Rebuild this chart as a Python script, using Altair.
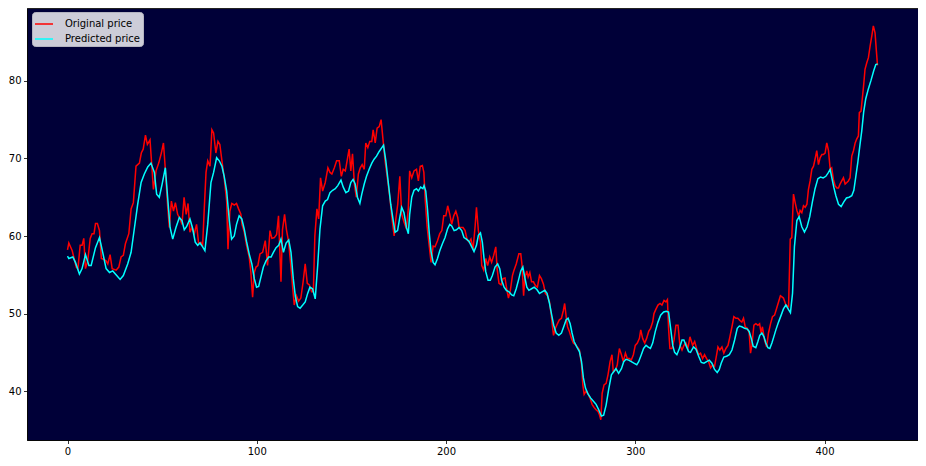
import altair as alt
import pandas as pd

# ---- Original price (red) ----
orig_x = [0, 0.7, 2.5, 4.6, 5.5, 6.7, 7.7, 8.6, 9.5, 10.7, 12, 13, 14, 14.8, 15.8, 16.9, 17.9, 19, 20.4, 21.3,
          22.5, 23.6, 25.7, 27.1, 28.3, 29.5, 30.6, 32.4, 33.6, 34.8, 36.2, 38, 39, 40, 41.2, 42.2, 43.6,
          45.4, 46.8, 48.2, 49.6, 50.7, 51.7, 52.9, 53.8, 54.9, 56, 57, 58.2, 59.5, 60.5, 61.6, 62.7, 63.7,
          64.7, 65.8, 67, 68.2, 69.3, 70.5, 71.4, 72.3, 73.2, 74.1, 75.3, 76.3, 77.2, 78.4, 79.5, 80.5, 81.6,
          82.8, 84.1, 84.8, 85.8, 86.8, 88.1, 89.3, 90.4, 91.6, 92.2, 93.4, 94.6, 96, 96.9, 97.8, 98.7, 99.6,
          100.6, 101.7, 103.1, 104.5, 105.7, 107, 108, 109.3, 110.5, 111.5, 112.8, 113.6, 114.7, 115.7, 116.8,
          118, 118.9, 119.8, 121, 122.1, 123.3, 124.5, 125.6, 126.7, 127.8, 129, 129.9, 130.7, 131.8, 132.7,
          133.7, 134.8, 136.2, 137.6, 138.7, 139.7, 141, 142.2, 143.6, 144.7, 145.7, 146.8, 147.8, 148.8,
          149.7, 150.6, 151.6, 152.6, 153.7, 154.7, 155.7, 156.8, 157.6, 158.7, 159.7, 160.8, 161.5, 162.6,
          163.6, 164.7, 165.7, 166.8, 167.8, 169.1, 170.3, 171.4, 172.6, 173.4, 174.5, 175.6, 176.6, 177.8,
          179.1, 180.1, 180.8, 181.9, 183.1, 184.4, 185.4, 186.4, 187.5, 188.3, 189, 190, 191.1, 192.1, 193.2,
          194.2, 195.5, 196.7, 197.8, 198.8, 199.9, 200.9, 202, 203, 204.1, 205.2, 206.2, 206.9, 208, 209,
          210.1, 211.1, 212.2, 213.2, 214.3, 215.4, 216.1, 217.1, 218.2, 218.9, 219.9, 221, 222, 223.1, 224.1,
          225.2, 226.3, 227, 228, 229.1, 230.1, 231.2, 232.2, 233, 234, 235.1, 235.8, 237.1, 238.5, 239.5,
          240.2, 241, 241.6, 242.7, 243.4, 244.3, 245.2, 246.2, 247.3, 248.3, 249.4, 250.4, 251.5, 252.5,
          253.6, 254.7, 255.7, 256.8, 257.8, 258.9, 259.9, 261, 262, 262.7, 263.5, 264.2, 265.2, 266.3, 267.3,
          268.4, 269.4, 270.5, 271.6, 272.3, 273, 274, 275.1, 276.1, 277.2, 278.2, 279.3, 280.3, 281, 281.8,
          282.5, 283.5, 284.6, 285.6, 286.7, 287.7, 288.4, 289.5, 290.5, 291.6, 292.7, 293.7, 294.8, 295.8,
          296.9, 297.9, 299, 300, 301.1, 302.2, 302.9, 303.9, 305, 306, 307.1, 308.1, 309.2, 309.9, 311, 312,
          313.1, 314.1, 315.2, 316.2, 317, 317.6, 318.3, 319.4, 320.5, 321.5, 322.6, 323.6, 324.7, 325.7,
          326.8, 327.8, 328.9, 330.3, 331.4, 332.4, 333.5, 334.5, 335.6, 336.6, 337.7, 338.8, 339.8, 340.9,
          341.9, 343, 343.7, 344.7, 345.8, 346.8, 347.9, 349, 350, 351.1, 352.1, 353.2, 354.2, 355.3, 356.3,
          357.2, 358.1, 359.2, 360.2, 360.9, 361.6, 362.7, 363.7, 364.8, 365.7, 366.5, 367.2, 368.3, 369.4,
          370.4, 371.5, 372.5, 373.6, 374.6, 375.7, 376.7, 378.3, 379.6, 381, 381.9, 382.7, 383.6, 384.5,
          385.4, 386.3, 387.1, 388, 388.9, 389.8, 390.7, 391.5, 392.4, 393.3, 394.2, 395, 395.9, 396.8, 397.7,
          398.6, 399.4, 400.3, 401.2, 402.1, 403, 403.8, 404.7, 405.6, 406.5, 407.4, 408.2, 409.1, 410, 410.9,
          411.8, 412.6, 413.5, 414.4, 415.3, 416.2, 417, 417.9, 418.4, 419.3, 420, 420.7, 421.4, 422.3, 423.2,
          424.1, 425, 425.8, 426.7, 427.4, 428]
orig_y = [58.2, 59.1, 58.1, 56.0, 55.8, 58.8, 58.8, 59.7, 55.8, 56.8, 59.7, 60.3, 60.3, 61.6, 61.6, 60.7, 57.1, 57.0, 56.8, 56.4,
          57.6, 55.8, 55.6, 56.0, 57.3, 57.5, 59.0, 60.3, 63.5, 64.3, 69.0, 69.4, 70.7, 71.2, 73.0, 71.8, 72.4,
          66.0, 68.4, 69.4, 70.7, 72.0, 68.6, 63.9, 61.1, 64.5, 63.2, 64.3, 62.8, 62.2, 61.5, 65.0, 62.8, 64.2,
          60.5, 61.1, 60.3, 61.5, 59.0, 59.2, 58.8, 63.7, 68.2, 69.7, 69.0, 73.7, 73.3, 70.7, 72.2, 71.8, 69.7,
          67.5, 64.5, 58.3, 63.2, 64.2, 64.0, 64.2, 63.5, 62.8, 61.5, 60.5, 58.8, 57.3, 55.3, 52.1, 55.3, 56.0,
          56.2, 57.7, 57.9, 59.4, 56.2, 60.7, 59.7, 59.8, 60.2, 62.6, 54.1, 60.8, 62.8, 60.8, 59.3,
          56.2, 53.6, 51.1, 52.3, 51.6, 52.0, 54.1, 56.4, 53.9, 53.7, 52.8, 52.8, 60.0, 63.5, 62.2,
          67.5, 65.8, 66.9, 68.8, 68.2, 68.0, 68.8, 69.7, 69.7, 67.7, 68.6, 68.4, 69.8, 71.2,
          68.4, 70.6, 66.7, 65.0, 68.0, 68.8, 69.2, 68.6, 72.0, 71.4, 72.2, 72.2, 73.7, 72.0,
          73.9, 74.1, 75.0, 72.2, 69.7, 67.3, 65.0, 62.4, 60.0, 62.0, 64.1, 67.7, 62.8, 61.8,
          60.9, 63.6, 68.4, 67.5, 68.4, 68.6, 67.1, 69.0, 69.1, 68.2, 64.7, 61.3, 58.8, 56.6, 58.7,
          58.6, 59.4, 60.3, 60.7, 62.6, 62.6, 63.9, 62.8, 61.5, 62.6, 63.2, 62.4, 61.1, 61.1, 61.1,
          60.7, 59.6, 59.2, 59.6, 58.3, 61.3, 63.7, 60.7, 59.2, 56.2, 55.6, 57.1, 56.2, 57.3, 56.6,
          57.5, 58.6, 55.8, 53.9, 53.7, 54.5, 54.6, 53.0, 52.0, 53.0, 54.9, 55.5, 56.4, 57.7, 57.7,
          56.2, 52.3, 54.5, 55.5, 54.7, 55.3, 54.1, 54.1, 53.6, 53.4, 54.9, 54.5, 53.8, 52.6,
          52.3, 51.5, 49.6, 47.2, 48.1, 48.7, 49.2, 49.4, 50.4, 51.3, 49.6, 48.3, 47.7, 46.8, 46.2,
          46.0, 45.7, 45.3, 43.4, 40.8, 39.6, 40.0, 39.6, 39.1, 38.3, 37.9, 37.6, 37.4, 37.0, 36.3,
          39.7, 40.8, 41.0, 42.1, 43.8, 44.7, 42.5, 42.7, 43.4, 45.5, 44.7, 43.8, 44.9, 44.2,
          44.2, 44.0, 44.7, 45.9, 46.2, 46.8, 47.9, 46.8, 46.2, 46.8, 47.7, 48.1, 48.9, 50.0, 50.6, 51.1,
          51.3, 51.1, 51.7, 51.5, 51.8, 48.1, 45.5, 45.5, 46.6, 48.5, 48.5, 45.9, 45.3, 45.9,
          46.2, 45.5, 47.0, 45.9, 46.4, 45.5, 44.7, 44.9, 44.2, 44.7, 44.2, 43.8, 43.0, 43.4,
          43.2, 44.7, 45.7, 45.3, 45.7, 44.9, 45.5, 45.9, 47.0, 48.3, 49.6, 49.4, 49.4, 49.1, 48.9,
          49.4, 48.3, 48.1, 47.5, 44.9, 45.9, 48.5, 48.7, 48.5, 48.7, 47.5, 48.3, 46.6, 45.7,
          47.5, 48.7, 49.6, 49.8, 50.6, 51.5, 52.3, 52.0, 51.1, 50.9, 59.6, 59.8, 65.4, 64.3,
          63.3, 62.6, 63.3, 63.0, 63.9, 63.7, 64.1, 66.0, 67.1, 68.6, 69.0, 69.9, 71.0, 69.2, 70.1,
          70.5, 70.5, 70.7, 72.0, 71.0, 68.6, 68.8, 67.3, 66.5, 66.2, 66.2, 66.7, 67.1, 67.5, 66.7,
          66.9, 67.1, 67.5, 70.3, 71.0, 72.0, 72.5, 72.9, 75.9, 76.1, 77.8, 79.5, 81.5, 82.3, 83.0,
          84.5, 85.8, 87.1, 86.2, 83.9, 82.0]

# ---- Predicted price (cyan) ----
pred_x = [0, 0.7, 2.8, 4.2, 6.3, 7.7, 9.5, 11.3, 12.5, 14.8, 16.9, 18.6, 20.4, 22.2, 23.9, 26, 27.8, 29.5, 31.8,
          33.6, 35.4, 37.1, 38.9, 40.6, 42.4, 44.1, 45.9, 47.1, 48.5, 50, 51.7, 52.9, 54.2, 55.6, 57.3, 59.1,
          60.5, 61.7, 62.9, 64.7, 66.1, 67.5, 68.8, 70, 71.4, 72.6, 74.1, 75.8, 77.2, 78.8, 80.2, 81.6, 82.8,
          84.1, 85.5, 86.7, 88.1, 89.3, 90.7, 92.1, 93.4, 94.6, 96, 97.4, 98.7, 99.9, 101, 102.2, 103.5, 104.9,
          106.3, 107.6, 108.8, 110.2, 111.6, 112.8, 114.1, 115.5, 116.9, 118.1, 119.3, 120.4, 121.6, 122.9,
          124.3, 125.6, 126.9, 128.1, 129.5, 130.9, 132.2, 133.4, 134.8, 136.2, 137.4, 138.7, 140.1, 141.5,
          142.8, 144.5, 145.7, 147.1, 148.5, 149.7, 150.9, 152, 153.2, 154.5, 155.5, 156.8, 158, 159.4, 160.8,
          162, 163.3, 164.7, 166.1, 167, 168.2, 169.6, 170.8, 172.1, 173.1, 174.4, 175.6, 176.6, 177.8, 179.1,
          180.1, 180.8, 181.9, 183.1, 184.4, 185.4, 186.6, 187.8, 188.4, 189.3, 190.2, 191.1, 192.1, 193.2,
          194.2, 195.5, 196.7, 198.1, 199.5, 200.8, 202, 203, 204.3, 205.5, 206.9, 208.3, 209.5, 210.8, 212.2,
          213.6, 214.8, 216.1, 217.1, 218.2, 219.2, 220.1, 221, 222.2, 223.4, 224.5, 225.9, 227.3, 228.4,
          229.4, 230.7, 231.9, 233.3, 234.7, 235.8, 237.1, 238.5, 239.5, 240.6, 241.6, 242.7, 243.8, 245.2,
          246.6, 248, 249.4, 250.8, 252.2, 253.4, 254.7, 255.7, 256.9, 258.2, 259.6, 261, 262.2, 263.5, 264.5,
          265.6, 266.6, 267.7, 269.1, 270.5, 271.6, 272.6, 273.7, 275.1, 276.5, 277.9, 279.3, 280.7, 282.1,
          283.3, 284.6, 286, 287.4, 288.6, 289.8, 291.2, 292.7, 293.9, 295.1, 296.5, 297.9, 299.3, 300.8,
          301.8, 303.2, 304.4, 305.7, 306.7, 308, 309.2, 310.6, 312, 313.4, 315, 316.4, 317.6, 318.7, 319.8,
          320.8, 322, 323.3, 324.7, 325.7, 326.8, 328.2, 329.2, 330.8, 332.1, 333.5, 334.9, 336.3, 337.7,
          339.1, 340.5, 341.9, 343.3, 344.4, 345.4, 346.8, 348.3, 349.7, 351.1, 352.5, 353.9, 355, 356.3,
          357.8, 359.2, 360.2, 361.3, 362.3, 363.7, 364.8, 365.8, 366.9, 368, 369, 370.1, 371.1, 372.2, 373.2,
          374.3, 375.7, 377.1, 378.3, 379.6, 381, 382, 383.1, 384.1, 385.4, 386.6, 388, 389.4, 390.8, 392.2,
          393.6, 395, 396.5, 397.9, 399.3, 400.7, 402.1, 403, 403.8, 404.9, 406, 407.4, 408.8, 410.2, 411.6,
          413, 414.4, 415.5, 416.5, 417.6, 418.6, 419.7, 420.7, 421.8, 423.2, 424.6, 426, 427.1, 428.1]
pred_y = [57.4, 57.1, 57.3, 56.6, 55.1, 55.8, 57.6, 56.2, 56.2, 58.5, 59.8, 57.9, 55.8, 55.3, 55.5, 54.9, 54.4, 54.9, 56.4,
          57.9, 61.1, 64.1, 66.9, 68.0, 68.9, 69.4, 68.2, 65.4, 65.0, 66.7, 68.8, 65.0, 61.1, 59.6, 61.1, 62.4,
          62.0, 60.8, 61.2, 62.2, 61.0, 59.2, 58.8, 59.1, 58.6, 58.1, 61.5, 66.9, 68.2, 70.1, 69.7, 69.0, 67.7,
          65.8, 62.0, 59.6, 60.0, 61.5, 62.6, 62.2, 60.9, 59.3, 57.7, 56.4, 54.5, 53.4, 53.5, 54.7, 56.0, 56.8,
          57.3, 57.3, 57.9, 58.5, 58.8, 59.6, 57.9, 59.1, 59.5, 57.9, 54.5, 52.2, 50.9, 50.7,
          51.1, 51.5, 52.6, 53.4, 53.2, 51.9, 56.2, 60.9, 63.9, 64.5, 64.7, 65.6, 65.9, 66.1,
          66.5, 67.2, 66.3, 65.6, 65.8, 66.9, 67.3, 66.7, 65.0, 64.2, 65.4, 66.7, 67.7, 68.6, 69.4,
          69.9, 70.3, 70.9, 71.4, 71.7, 69.7, 66.7, 64.1, 62.0, 60.5, 60.7, 62.4, 63.7, 63.0, 61.1,
          60.3, 62.8, 65.0, 65.9, 66.1, 65.8, 66.3, 66.1, 66.5, 65.8, 63.5, 60.5, 58.0, 56.6,
          56.3, 57.1, 58.1, 59.0, 59.8, 60.9, 61.5, 61.3, 60.7, 60.8, 61.1, 60.7, 59.8, 59.6, 59.3,
          58.6, 58.0, 58.8, 60.1, 60.4, 59.2, 57.1, 55.4, 54.3, 54.3, 54.9, 56.0, 56.4, 55.8,
          54.3, 53.4, 53.0, 52.8, 52.4, 52.3, 53.2, 54.5, 55.5, 56.0, 54.7, 53.4, 53.0, 53.2,
          53.4, 53.1, 52.6, 52.8, 53.0, 52.6, 51.3, 50.0, 48.5, 47.5, 47.2, 47.5, 48.3, 49.2, 49.4,
          48.7, 47.5, 46.4, 45.7, 45.1, 43.8, 41.7, 40.4, 39.6, 39.1, 38.7, 38.3, 37.6, 36.8,
          36.9, 38.2, 40.3, 42.1, 42.5, 42.9, 42.3, 42.9, 43.8, 44.1, 44.0, 43.8, 43.6, 43.4,
          43.8, 44.7, 45.5, 45.9, 45.7, 45.5, 46.2, 47.7, 48.9, 49.8, 50.2, 50.3, 50.2, 48.1, 45.9,
          45.0, 44.7, 45.5, 46.6, 46.6, 45.9, 45.1, 45.0, 45.7, 45.4, 44.5, 43.7, 43.6, 43.8,
          44.0, 43.6, 42.8, 42.4, 42.8, 43.6, 44.4, 44.5, 44.7, 45.3, 46.6, 48.1, 48.4, 48.3,
          48.1, 48.0, 47.7, 46.8, 45.8, 45.6, 46.4, 47.2, 47.5, 47.0, 46.2, 45.6, 45.5, 46.2, 47.0,
          47.9, 48.9, 49.8, 50.6, 51.1, 50.5, 50.1, 52.6, 58.6, 62.0, 62.5, 61.2, 60.5, 61.2, 62.5,
          64.4, 66.1, 67.4, 67.6, 67.5, 67.7, 68.2, 68.6, 67.6, 66.3, 65.2, 64.1, 63.8, 64.4, 64.9,
          65.0, 65.2, 65.9, 67.6, 69.5, 71.5, 73.6, 76.0, 77.7, 79.0, 80.1, 81.3, 82.1, 82.2]

series_names = ["Original price", "Predicted price"]
series_colors = ["#ff0000", "#00ffff"]
x_ticks = [0, 100, 200, 300, 400]
y_ticks = [40, 50, 60, 70, 80]

df = pd.concat([
    pd.DataFrame({"x": orig_x, "y": orig_y, "series": series_names[0]}),
    pd.DataFrame({"x": pred_x, "y": pred_y, "series": series_names[1]}),
], ignore_index=True)

chart = alt.Chart(df).mark_line(strokeWidth=1.5).encode(
    x=alt.X("x:Q",
            scale=alt.Scale(domain=[-21.4, 449.4], nice=False, zero=False),
            axis=alt.Axis(values=x_ticks, title=None, grid=False)),
    y=alt.Y("y:Q",
            scale=alt.Scale(domain=[33.7, 89.4], nice=False, zero=False),
            axis=alt.Axis(values=y_ticks, title=None, grid=False)),
    color=alt.Color("series:N",
                    scale=alt.Scale(domain=series_names, range=series_colors),
                    legend=alt.Legend(title=None, orient="none", legendX=5, legendY=4)),
).properties(
    width=891, height=432,
    padding={"left": 0, "top": 0, "right": 0, "bottom": 0},
    background="white",
).configure_view(
    fill="#000038", stroke="#222222", strokeWidth=1,
).configure_axis(
    labelFont="DejaVu Sans", labelFontSize=10, labelColor="black",
    tickColor="black", tickSize=3.5, tickWidth=0.8, labelPadding=2.5,
    domainColor="black", domainWidth=0.8,
).configure_legend(
    fillColor="#cdcdd8", strokeColor="#b4b4c0", cornerRadius=3, padding=2,
    symbolType="stroke", symbolSize=324, symbolStrokeWidth=1.5,
    labelFont="DejaVu Sans", labelFontSize=10, labelColor="black",
    labelOffset=11, rowPadding=-2,
)

chart.save("out.html", embed_options={"renderer": "svg", "actions": False})
